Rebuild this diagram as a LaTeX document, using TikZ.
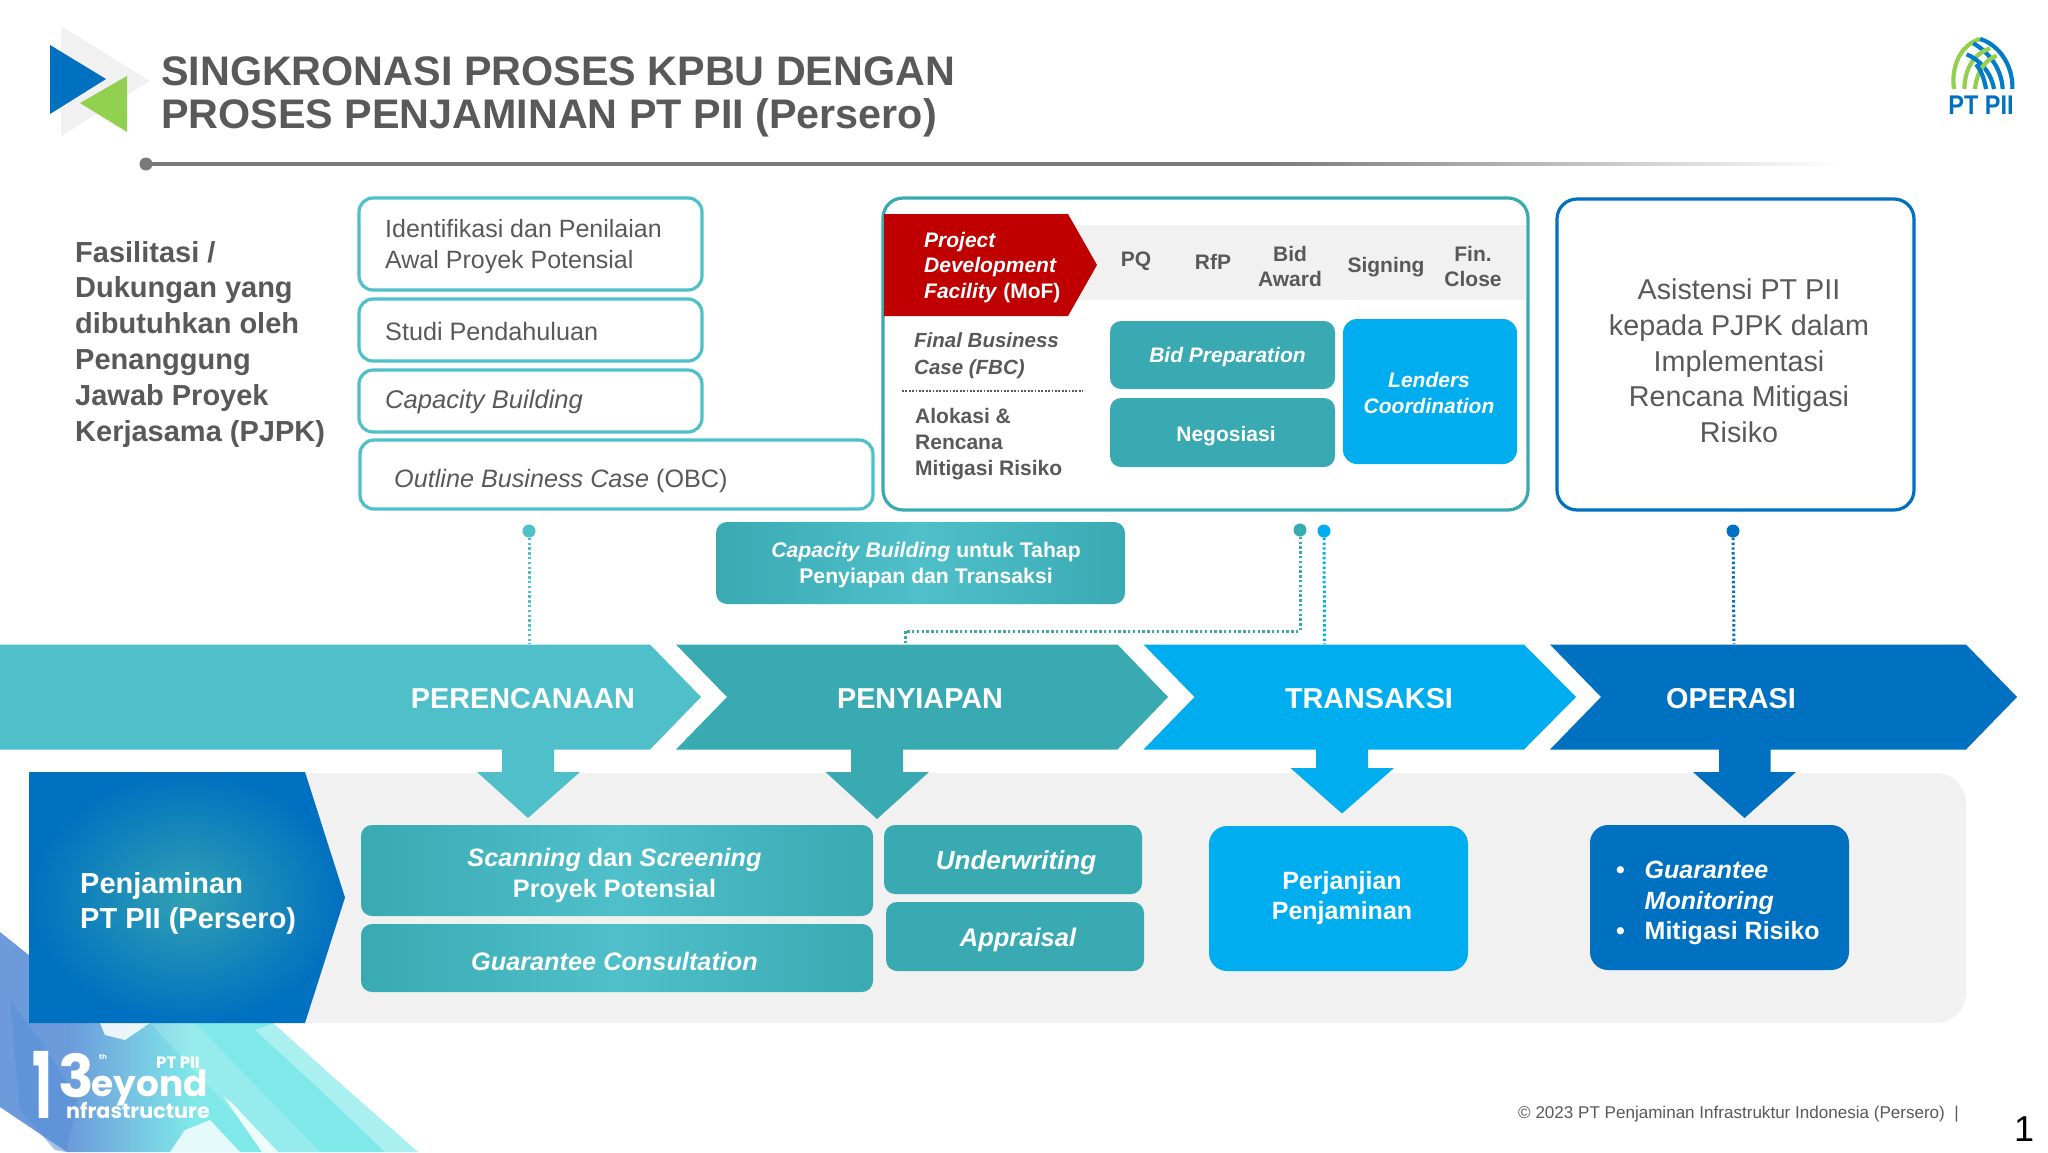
\documentclass[tikz,border=0pt]{standalone}
\usepackage{fontspec}
\setmainfont{Liberation Sans}
\newfontfamily\logofont{Poppins}
\usetikzlibrary{calc}
\definecolor{tealL}{HTML}{4FC0CA}
\definecolor{tealD}{HTML}{39A9B2}
\definecolor{cyanB}{HTML}{00AEEF}
\definecolor{blueD}{HTML}{0070C0}
\definecolor{txtG}{HTML}{595959}
\definecolor{panelG}{HTML}{F1F1F2}
\definecolor{redD}{HTML}{C00000}
\definecolor{lgreen}{HTML}{92D050}
\definecolor{brushB}{HTML}{6C9ADB}
\definecolor{brushC}{HTML}{7FE8E8}
\definecolor{ruleG}{HTML}{7A7A7A}
\pgfdeclarehorizontalshading{brush}{100bp}{color(0bp)=(brushB);color(25bp)=(brushB);color(33bp)=(brushB);color(48bp)=(brushC);color(75bp)=(brushC);color(100bp)=(brushC)}
\pgfdeclarehorizontalshading{rulefade}{100bp}{color(0bp)=(ruleG);color(25bp)=(ruleG);color(58bp)=(ruleG);color(75bp)=(white);color(100bp)=(white)}
\newcommand{\fsz}[2]{\fontsize{#1pt}{#2pt}\selectfont}
\newcommand{\placebox}[6]{%
  \pgfmathsetmacro\bxw{#5-#3}\pgfmathsetmacro\bxh{#6-#4}%
  \pgfmathsetmacro\bxx{(#3+#5)/2}\pgfmathsetmacro\bxy{(#4+#6)/2}%
  \node[#2,minimum width=\bxw pt,minimum height=\bxh pt,inner sep=0pt] (#1) at (\bxx,\bxy) {};}
\tikzset{
  tx/.style={inner sep=0pt,align=left,anchor=west},
  txc/.style={inner sep=0pt,align=center},
  line1/.style={tx,anchor=base west},
  wc/.style={txc,text=white},
  obox/.style={draw=tealL,line width=3.2pt,rounded corners=14pt,fill=white},
  gbt/.style={inner sep=0pt,align=center,text=txtG,font=\fsz{21}{25}\bfseries},
  tbox/.style={fill=tealD,rounded corners=11pt},
  gradbox/.style={left color=tealD,right color=tealD,middle color=tealL,rounded corners=11pt},
  dotn/.style={circle,inner sep=0pt,minimum size=13pt},
  conn/.style={line width=3pt,dash pattern=on 2.4pt off 2.4pt},
  phase/.style={inner sep=0pt,anchor=base,text=white,font=\fsz{28.8}{36}\bfseries},
}
\begin{document}
\begin{tikzpicture}[x=1pt,y=-1pt]
\useasboundingbox (0,0) rectangle (2048,1152);
\fill[white] (0,0) rectangle (2048,1152);

% header mark
\fill[panelG] (61,26) -- (150,81) -- (61,136) -- cycle;
\fill[blueD] (50,45) -- (106,79) -- (50,114) -- cycle;
\fill[lgreen] (127,76) -- (80,103) -- (127,132) -- cycle;
\node[tx,text=txtG,font=\fsz{41.3}{43}\bfseries] (title) at (161,97)
  {SINGKRONASI PROSES KPBU DENGAN\\PROSES PENJAMINAN PT PII (Persero)};
\shade[shading=rulefade] (146,162.9) rectangle (1840,165.1);
\fill[ruleG] (146,164) circle (6.5);

% top right logo
\begin{scope}[shift={(1930,25)},x=0.3333pt,y=-0.3333pt,line width=4.2pt]
  \draw[lgreen] (72,192) .. controls (62,120) and (95,58) .. (150,42);
  \draw[blueD!80!cyanB] (150,42) .. controls (205,58) and (250,120) .. (247,192);
  \draw[blueD!80!cyanB] (218,192) .. controls (215,130) and (175,80) .. (130,55);
  \draw[lgreen] (103,192) .. controls (105,125) and (135,85) .. (180,70);
  \draw[blueD!80!cyanB] (192,192) .. controls (182,140) and (150,105) .. (110,88);
  \draw[lgreen] (135,192) .. controls (140,140) and (165,105) .. (200,92);
  \draw[blueD!80!cyanB] (168,192) .. controls (162,155) and (150,132) .. (138,118);
\end{scope}
\node[inner sep=0pt,anchor=base,text=blueD,xscale=.87,font=\fsz{27}{30}\bfseries] (ptpii) at (1981,114.5) {PT PII};

% left heading
\node[tx,text=txtG,font=\fsz{29}{35.8}\bfseries] (fasil) at (75,344)
  {Fasilitasi /\\Dukungan yang\\dibutuhkan oleh\\Penanggung\\Jawab Proyek\\Kerjasama (PJPK)};

% outlined boxes
\placebox{b1}{obox}{359}{198}{702}{290}
\placebox{b2}{obox}{359}{299}{702}{361}
\placebox{b3}{obox}{359}{370}{702}{432}
\placebox{b4}{obox}{360}{440}{873}{509}
\node[tx,text=txtG,font=\fsz{25}{31}] (b1t) at (385,247) {Identifikasi dan Penilaian\\Awal Proyek Potensial};
\node[line1,text=txtG,font=\fsz{25.2}{30}] (b2t) at (385,340) {Studi Pendahuluan};
\node[line1,text=txtG,font=\fsz{25.6}{30}\itshape] (b3t) at (385,408) {Capacity Building};
\node[line1,text=txtG,font=\fsz{25.2}{30}] (b4t) at (394,487) {\textit{Outline Business Case} (OBC)};

% main box
\placebox{mainb}{draw=tealD,line width=3.2pt,rounded corners=20pt,fill=white}{883}{198}{1528}{510}
\fill[panelG] (1060,225) rectangle (1526.4,300);
\fill[redD] (884,214) -- (1068,214) -- (1097,265) -- (1068,316) -- (884,316) -- cycle;
\node[tx,text=white,font=\fsz{21}{25.7}\bfseries] (pdf) at (924,267.5)
  {\textit{Project}\\\textit{Development}\\\textit{Facility} (MoF)};
\node[gbt] (pq) at (1136,261) {PQ};
\node[gbt] (rfp) at (1213,262) {RfP};
\node[gbt] (bid) at (1290,266) {Bid\\Award};
\node[gbt] (sign) at (1386,267) {Signing};
\node[gbt] (fin) at (1473,266) {Fin.\\Close};
\node[tx,text=txtG,font=\fsz{20.5}{26.6}\bfseries\itshape] (fbc) at (914,355.5) {Final Business\\Case (FBC)};
\coordinate (dl) at (902,391); \coordinate (dr) at (1083,391);
\draw[line width=1.8pt,dash pattern=on 1.8pt off 1.6pt,draw=txtG] (dl) -- (dr);
\node[tx,text=txtG,font=\fsz{21}{26}\bfseries] (alo) at (915,444) {Alokasi \&\\Rencana\\Mitigasi Risiko};
\placebox{bidp}{tbox}{1110}{321}{1335}{389}
\node[wc,font=\fsz{21}{26}\bfseries\itshape] (bidpt) at (1227.5,357.5) {Bid Preparation};
\placebox{nego}{tbox}{1110}{398}{1335}{467}
\node[wc,font=\fsz{21}{26}\bfseries] (negot) at (1226,436) {Negosiasi};
\placebox{lend}{fill=cyanB,rounded corners=14pt}{1343}{319}{1517}{464}
\node[wc,font=\fsz{21}{26}\bfseries\itshape] (lendt) at (1429,393) {Lenders\\Coordination};

% asistensi
\placebox{asis}{draw=blueD,line width=3.2pt,rounded corners=20pt,fill=white}{1557}{199}{1914}{510}
\node[txc,text=txtG,font=\fsz{28.7}{35.7}] (asist) at (1739,361) {Asistensi PT PII\\kepada PJPK dalam\\Implementasi\\Rencana Mitigasi\\Risiko};

% capacity box
\placebox{capb}{gradbox}{716}{522}{1125}{604}
\node[wc,font=\fsz{21.2}{26}\bfseries] (capt) at (926,565.5) {\textit{Capacity Building} untuk Tahap\\Penyiapan dan Transaksi};

% watercolour
\shade[shading=brush] (0,932) -- (30,956) -- (88,1023) -- (273,1023) -- (333,1077) -- (418,1152) -- (67,1152) -- (0,1107) -- cycle;
\fill[brushB!80!blueD,opacity=.55] (10,1000) -- (40,1040) -- (78,1100) -- (66,1152) -- (55,1150) -- (20,1110) -- cycle;
\fill[white,opacity=.35] (273,1023) -- (333,1077) -- (418,1152) -- (385,1152) -- (315,1085) -- (255,1030) -- cycle;
\fill[white,opacity=.18] (150,1023) -- (195,1023) -- (320,1152) -- (270,1152) -- cycle;
\fill[white,opacity=.85] (100,1023) -- (150,1023) -- (125,1040) -- (105,1035) -- cycle;
\fill[white,opacity=.85] (224,1097) -- (232,1103) -- (278,1152) -- (262,1152) -- cycle;
\fill[white,opacity=.8] (185,1130) -- (210,1120) -- (240,1152) -- (170,1152) -- cycle;

% panel and pentagon
\fill[panelG,rounded corners=30pt] (250,773) -- (1966,773) -- (1966,1023) -- (250,1023) -- cycle;
\shade[inner color=tealD!85!blueD,outer color=blueD] (29,772) -- (305,772) -- (345,897.5) -- (305,1023) -- (29,1023) -- cycle;
\node[tx,text=white,font=\fsz{29}{35.5}\bfseries] (penj) at (80,903.5) {Penjaminan\\PT PII (Persero)};

% chevrons
\fill[tealL] (0,644.5) -- (650,644.5) -- (701,697) -- (650,749.5) -- (0,749.5) -- cycle;
\fill[tealD] (676,644.5) -- (1117.5,644.5) -- (1168,697) -- (1117.5,749.5) -- (676,749.5) -- (727,697) -- cycle;
\fill[cyanB] (1143.5,644.5) -- (1524,644.5) -- (1576,697) -- (1524,749.5) -- (1143.5,749.5) -- (1194.5,697) -- cycle;
\fill[blueD] (1550,644.5) -- (1966,644.5) -- (2017,697) -- (1966,749.5) -- (1550,749.5) -- (1601,697) -- cycle;
\node[phase] (ph1) at (523,708) {PERENCANAAN};
\node[phase] (ph2) at (920,708) {PENYIAPAN};
\node[phase] (ph3) at (1369,708) {TRANSAKSI};
\node[phase] (ph4) at (1731,708) {OPERASI};

% down arrows
\fill[tealL] (502,749) -- (554,749) -- (554,772) -- (580,772) -- (528,818) -- (477,772) -- (502,772) -- cycle;
\fill[tealD] (851,749) -- (903,749) -- (903,772) -- (929,772) -- (877,819) -- (825.5,772) -- (851,772) -- cycle;
\fill[cyanB] (1316,749) -- (1368,749) -- (1368,768) -- (1394,768) -- (1342,813.5) -- (1290.5,768) -- (1316,768) -- cycle;
\fill[blueD] (1719,749) -- (1770.5,749) -- (1770.5,772) -- (1796,772) -- (1744.5,818) -- (1693,772) -- (1719,772) -- cycle;

% connectors
\coordinate (cA) at (529,644);
\coordinate (cB) at (905,644);
\coordinate (cC) at (1324.5,644);
\coordinate (cD) at (1734,644);
\node[dotn,fill=tealL] (dA) at (529,531) {};
\node[dotn,fill=tealD] (dB) at (1300,530) {};
\node[dotn,fill=cyanB] (dC) at (1324,531) {};
\node[dotn,fill=blueD] (dD) at (1733,531) {};
\draw[conn,tealL] (dA) -- (cA);
\draw[conn,tealD] (dB) |- (905,631) -- (cB);
\draw[conn,cyanB] (dC) -- (cC);
\draw[conn,blueD] (dD) -- (cD);

% bottom boxes
\placebox{scan}{gradbox}{361}{825}{873}{916}
\node[wc,font=\fsz{25.2}{31}\bfseries\itshape] (scant) at (614.5,875) {Scanning \textup{dan} Screening\\\textup{Proyek Potensial}};
\placebox{gcon}{gradbox}{361}{924}{873}{992}
\node[wc,font=\fsz{25.3}{31}\bfseries\itshape] (gcont) at (614.5,961) {Guarantee Consultation};
\placebox{under}{tbox}{884}{825}{1142}{894}
\node[wc,font=\fsz{26}{31}\bfseries\itshape] (undert) at (1016,863) {Underwriting};
\placebox{appr}{tbox}{886}{902}{1144}{971}
\node[wc,font=\fsz{25.5}{31}\bfseries\itshape] (apprt) at (1018,940) {Appraisal};
\placebox{perj}{fill=cyanB,rounded corners=18pt}{1209}{826}{1468}{971}
\node[wc,font=\fsz{25}{30}\bfseries] (perjt) at (1342,898) {Perjanjian\\Penjaminan};
\placebox{opb}{fill=blueD,rounded corners=18pt}{1590}{825}{1849}{970}
\node[tx,text=white,font=\fsz{25}{30.5}\bfseries] (opt) at (1616,903)
  {\makebox[28.5pt][l]{•}\textit{Guarantee}\\\hspace*{28.5pt}\textit{Monitoring}\\\makebox[28.5pt][l]{•}Mitigasi Risiko};

% anniversary wordmark
\node[inner sep=0pt,anchor=base west,text=white,xscale=.58,font=\logofont\fsz{92}{95}\bfseries] (n1) at (32,1118) {1};
\node[inner sep=0pt,anchor=base west,text=white,font=\logofont\fsz{59}{62}\bfseries] (n3) at (58,1097) {3};
\node[inner sep=0pt,anchor=base west,text=white,font=\logofont\fsz{7}{7}\bfseries] (nth) at (99,1059) {th};
\node[inner sep=0pt,anchor=base east,text=white,font=\logofont\fsz{16.5}{17}\bfseries] (lp) at (200,1068) {PT PII};
\node[inner sep=0pt,anchor=base east,text=white,font=\logofont\fsz{36}{37}\bfseries] (ley) at (208,1096) {eyond};
\node[inner sep=0pt,anchor=base east,text=white,font=\logofont\fsz{20.7}{24}\bfseries] (lin) at (210,1118) {nfrastructure};

% footer
\node[line1,text=txtG,font=\fsz{17.05}{20}] (foot) at (1518,1118) {© 2023 PT Penjaminan Infrastruktur Indonesia (Persero)~~|};
\node[line1,text=black,font=\fsz{36}{40}] (pgn) at (2014,1141) {1};
\end{tikzpicture}
\end{document}
